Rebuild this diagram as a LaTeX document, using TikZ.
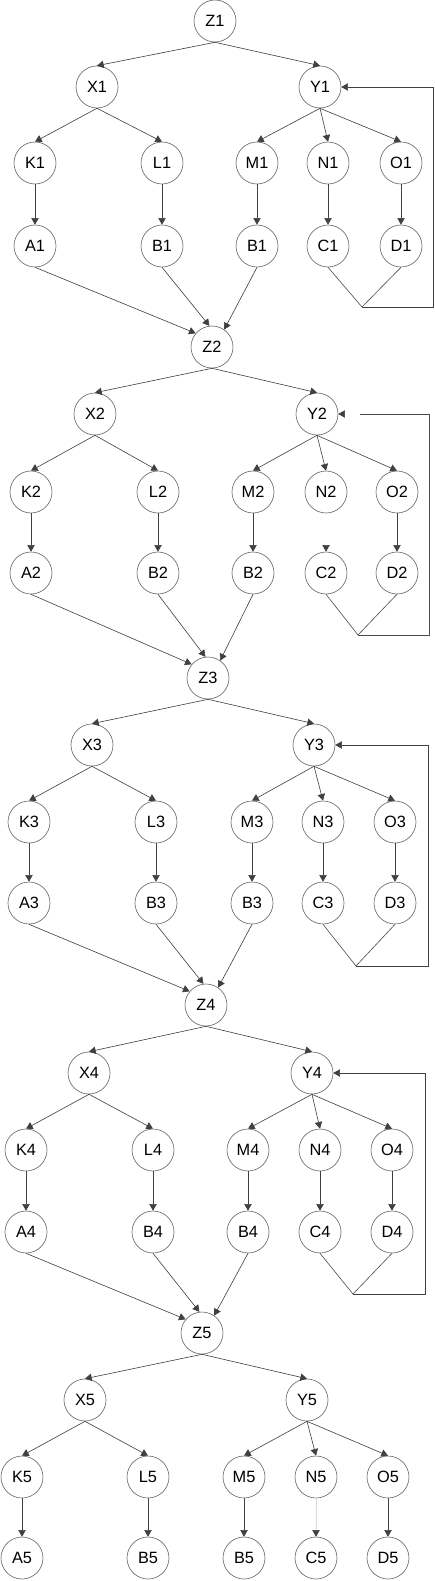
\documentclass[tikz,border=0pt]{standalone}
\usepackage{fontspec}
\setmainfont{Liberation Sans}
\usetikzlibrary{arrows.meta}
\begin{document}
\begin{tikzpicture}[x=0.02cm,y=-0.02cm,
 nd/.style={circle,draw=black!60,line width=0.35pt,minimum size=0.84cm,inner sep=0pt,font=\fontsize{9.3}{10}\selectfont},
 ar/.style={draw=black!75,line width=0.35pt,-{Triangle[length=3.8pt,width=4.2pt]}},
 ln/.style={draw=black!70,line width=0.35pt},
 tiponly/.style={ar,dash pattern=on 0pt off 300pt}]
\useasboundingbox (0,0) rectangle (434,1581);
% block 1
\node[nd] (Z1) at (215,21) {Z1};
\node[nd] (X1) at (97,87) {X1};
\node[nd] (Y1) at (320,87) {Y1};
\node[nd] (K1) at (35,163) {K1};
\node[nd] (L1) at (162,163) {L1};
\node[nd] (M1) at (257,163) {M1};
\node[nd] (N1) at (328,163) {N1};
\node[nd] (O1) at (401,163) {O1};
\node[nd] (A1) at (35,246) {A1};
\node[nd] (B1) at (162,246) {B1};
\node[nd] (BB1) at (257,246) {B1};
\node[nd] (C1) at (328,246) {C1};
\node[nd] (D1) at (401,246) {D1};
\coordinate (j1) at (362,307);
\coordinate (rb1) at (433,307);
\coordinate (rt1) at (433,87);
% block 2
\node[nd] (Z2) at (212,347) {Z2};
\node[nd] (X2) at (95,414) {X2};
\node[nd] (Y2) at (317,414) {Y2};
\node[nd] (K2) at (31,492) {K2};
\node[nd] (L2) at (158,492) {L2};
\node[nd] (M2) at (253,492) {M2};
\node[nd] (N2) at (326,492) {N2};
\node[nd] (O2) at (397,492) {O2};
\node[nd] (A2) at (31,573) {A2};
\node[nd] (B2) at (158,573) {B2};
\node[nd] (BB2) at (253,573) {B2};
\node[nd] (C2) at (326,573) {C2};
\node[nd] (D2) at (397,573) {D2};
\coordinate (j2) at (358,635);
\coordinate (rb2) at (429,635);
\coordinate (rt2) at (429,414);
\coordinate (g2) at (360,414);
\coordinate (g2s) at (350,414);
% block 3
\node[nd] (Z3) at (208,678) {Z3};
\node[nd] (X3) at (92,745) {X3};
\node[nd] (Y3) at (314,745) {Y3};
\node[nd] (K3) at (29,822) {K3};
\node[nd] (L3) at (156,822) {L3};
\node[nd] (M3) at (252,822) {M3};
\node[nd] (N3) at (323,822) {N3};
\node[nd] (O3) at (395,822) {O3};
\node[nd] (A3) at (29,903) {A3};
\node[nd] (B3) at (156,903) {B3};
\node[nd] (BB3) at (252,903) {B3};
\node[nd] (C3) at (323,903) {C3};
\node[nd] (D3) at (395,903) {D3};
\coordinate (j3) at (356,966);
\coordinate (rb3) at (428,966);
\coordinate (rt3) at (428,745);
% block 4
\node[nd] (Z4) at (206,1005) {Z4};
\node[nd] (X4) at (89,1073) {X4};
\node[nd] (Y4) at (312,1073) {Y4};
\node[nd] (K4) at (26,1150) {K4};
\node[nd] (L4) at (153,1150) {L4};
\node[nd] (M4) at (248,1150) {M4};
\node[nd] (N4) at (320,1150) {N4};
\node[nd] (O4) at (392,1150) {O4};
\node[nd] (A4) at (26,1232) {A4};
\node[nd] (B4) at (153,1232) {B4};
\node[nd] (BB4) at (248,1232) {B4};
\node[nd] (C4) at (320,1232) {C4};
\node[nd] (D4) at (392,1232) {D4};
\coordinate (j4) at (353,1294);
\coordinate (rb4) at (425,1294);
\coordinate (rt4) at (425,1073);
% block 5
\node[nd] (Z5) at (202,1333) {Z5};
\node[nd] (X5) at (85,1400) {X5};
\node[nd] (Y5) at (307,1400) {Y5};
\node[nd] (K5) at (22,1477) {K5};
\node[nd] (L5) at (148,1477) {L5};
\node[nd] (M5) at (244,1477) {M5};
\node[nd] (N5) at (316,1477) {N5};
\node[nd] (O5) at (388,1477) {O5};
\node[nd] (A5) at (22,1558) {A5};
\node[nd] (B5) at (148,1558) {B5};
\node[nd] (BB5) at (244,1558) {B5};
\node[nd] (C5) at (316,1558) {C5};
\node[nd] (D5) at (388,1558) {D5};
% tree edges
\foreach \i in {1,...,5}{
 \draw[ar] (Z\i.south) -- (X\i.north);
 \draw[ar] (Z\i.south) -- (Y\i.north);
 \draw[ar] (X\i.south) -- (K\i.north);
 \draw[ar] (X\i.south) -- (L\i.north);
 \draw[ar] (Y\i.south) -- (M\i.north);
 \draw[ar] (Y\i.south) -- (N\i.north);
 \draw[ar] (Y\i.south) -- (O\i.north);
 \draw[ar] (K\i.south) -- (A\i.north);
 \draw[ar] (L\i.south) -- (B\i.north);
 \draw[ar] (M\i.south) -- (BB\i.north);
 \draw[ar] (O\i.south) -- (D\i.north);
}
\foreach \i in {1,3,4}{ \draw[ar] (N\i.south) -- (C\i.north); }
\draw[tiponly] (N2.south) -- (C2.north);
\draw[ln,draw=black!15] (N5.south) -- (C5.north);
\draw[tiponly] (N5.south) -- (C5.north);
% merges into next Z
\foreach \i in {1,...,4}{
 \pgfmathtruncatemacro\j{\i+1}
 \draw[ar] (A\i.south) -- (Z\j.140);
 \draw[ar] (B\i.south) -- (Z\j.97);
 \draw[ar] (BB\i.south) -- (Z\j.55);
 \draw[ln] (C\i.south) -- (j\i) -- (D\i.south);
}
% feedback loops
\draw[ar] (j1) -- (rb1) -- (rt1) -- (Y1.east);
\draw[ln] (j2) -- (rb2) -- (rt2) -- (g2);
\draw[tiponly] (g2s) -- (Y2.east);
\draw[ar] (j3) -- (rb3) -- (rt3) -- (Y3.east);
\draw[ar] (j4) -- (rb4) -- (rt4) -- (Y4.east);
\end{tikzpicture}
\end{document}
